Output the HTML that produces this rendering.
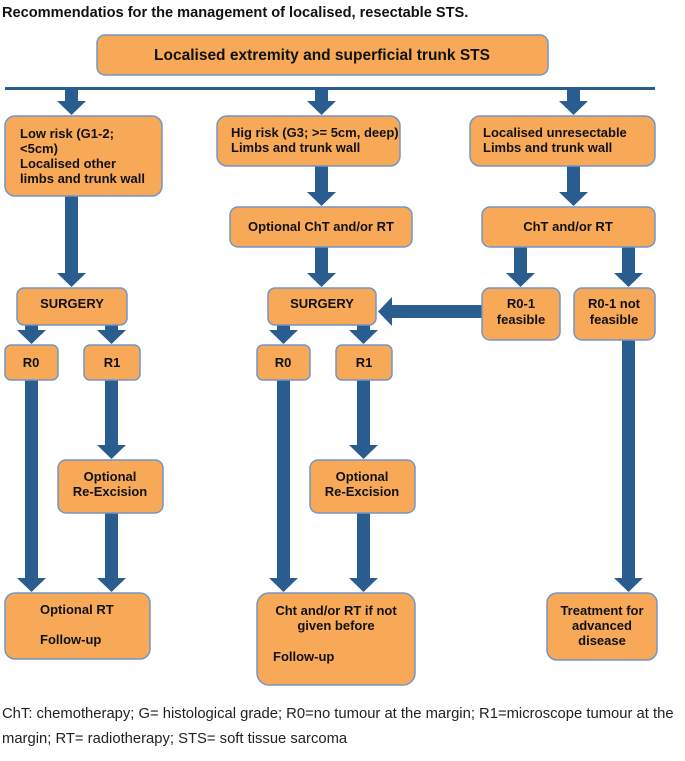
<!DOCTYPE html>
<html><head><meta charset="utf-8"><style>
body{margin:0;background:#fff;}
svg{display:block;font-family:"Liberation Sans",Arial,sans-serif;}
.b{fill:#f7a957;stroke:#7096c8;stroke-width:1.5;}
.t{font-weight:bold;font-size:13px;fill:#111;}
.a{fill:#2a5d8f;}
</style></head><body>
<svg width="685" height="761" viewBox="0 0 685 761">
<text x="2" y="17" style="font-weight:bold;font-size:14.6px" fill="#111">Recommendatios for the management  of localised, resectable STS.</text>
<rect class="b" x="97" y="35" width="451" height="40" rx="8"/>
<text class="t" x="322" y="60" text-anchor="middle" style="font-size:15.5px">Localised extremity and superficial trunk STS</text>
<rect class="a" x="5" y="87" width="650" height="3"/>
<g class="a">
<rect x="65" y="88" width="13" height="14"/><polygon points="57,101 86,101 71.5,115"/>
<rect x="315" y="88" width="13" height="14"/><polygon points="307,101 336,101 321.5,115"/>
<rect x="567" y="88" width="13" height="14"/><polygon points="559,101 588,101 573.5,115"/>
<rect x="315" y="166" width="13" height="27"/><polygon points="307,192 336,192 321.5,206"/>
<rect x="567" y="166" width="13" height="27"/><polygon points="559,192 588,192 573.5,206"/>
<rect x="65" y="196" width="13" height="78"/><polygon points="57,273 86,273 71.5,287"/>
<rect x="315" y="247" width="13" height="27"/><polygon points="307,273 336,273 321.5,287"/>
<rect x="514" y="247" width="13" height="27"/><polygon points="506,273 535,273 520.5,287"/>
<rect x="622" y="247" width="13" height="27"/><polygon points="614,273 643,273 628.5,287"/>
<rect x="392" y="305" width="90" height="13"/><polygon points="392,297 392,326 378,311.5"/>
<rect x="25" y="325" width="13" height="6"/><polygon points="17,330 46,330 31.5,344"/>
<rect x="105" y="325" width="13" height="6"/><polygon points="97,330 126,330 111.5,344"/>
<rect x="277" y="325" width="13" height="6"/><polygon points="269,330 298,330 283.5,344"/>
<rect x="357" y="325" width="13" height="6"/><polygon points="349,330 378,330 363.5,344"/>
<rect x="25" y="380" width="13" height="199"/><polygon points="17,578 46,578 31.5,592"/>
<rect x="277" y="380" width="13" height="199"/><polygon points="269,578 298,578 283.5,592"/>
<rect x="105" y="380" width="13" height="66"/><polygon points="97,445 126,445 111.5,459"/>
<rect x="357" y="380" width="13" height="66"/><polygon points="349,445 378,445 363.5,459"/>
<rect x="105" y="513" width="13" height="66"/><polygon points="97,578 126,578 111.5,592"/>
<rect x="357" y="513" width="13" height="66"/><polygon points="349,578 378,578 363.5,592"/>
<rect x="622" y="340" width="13" height="239"/><polygon points="614,578 643,578 628.5,592"/>
</g>
<rect class="b" x="5" y="116" width="157" height="80" rx="10"/>
<text class="t" x="20" y="138">Low risk (G1-2;</text>
<text class="t" x="20" y="153">&lt;5cm)</text>
<text class="t" x="20" y="168">Localised other</text>
<text class="t" x="20" y="183">limbs and trunk wall</text>
<rect class="b" x="217" y="116" width="183" height="50" rx="10"/>
<text class="t" x="231" y="137">Hig risk (G3; &gt;= 5cm, deep)</text>
<text class="t" x="231" y="152">Limbs and trunk wall</text>
<rect class="b" x="470" y="116" width="185" height="50" rx="10"/>
<text class="t" x="483" y="137">Localised unresectable</text>
<text class="t" x="483" y="152">Limbs and trunk wall</text>
<rect class="b" x="230" y="207" width="182" height="40" rx="8"/>
<text class="t" x="321" y="231" text-anchor="middle">Optional ChT and/or RT</text>
<rect class="b" x="482" y="207" width="173" height="40" rx="8"/>
<text class="t" x="568" y="231" text-anchor="middle">ChT and/or RT</text>
<rect class="b" x="17" y="288" width="110" height="37" rx="7"/>
<text class="t" x="72" y="308" text-anchor="middle">SURGERY</text>
<rect class="b" x="268" y="288" width="108" height="37" rx="7"/>
<text class="t" x="322" y="308" text-anchor="middle">SURGERY</text>
<rect class="b" x="482" y="288" width="78" height="52" rx="8"/>
<text class="t" x="521" y="308" text-anchor="middle">R0-1</text>
<text class="t" x="521" y="324" text-anchor="middle">feasible</text>
<rect class="b" x="574" y="288" width="81" height="52" rx="8"/>
<text class="t" x="614" y="308" text-anchor="middle">R0-1 not</text>
<text class="t" x="614" y="324" text-anchor="middle">feasible</text>
<rect class="b" x="5" y="345" width="53" height="35" rx="6"/>
<text class="t" x="31" y="367" text-anchor="middle">R0</text>
<rect class="b" x="84" y="345" width="56" height="35" rx="6"/>
<text class="t" x="112" y="367" text-anchor="middle">R1</text>
<rect class="b" x="257" y="345" width="53" height="35" rx="6"/>
<text class="t" x="283" y="367" text-anchor="middle">R0</text>
<rect class="b" x="336" y="345" width="56" height="35" rx="6"/>
<text class="t" x="364" y="367" text-anchor="middle">R1</text>
<rect class="b" x="58" y="460" width="105" height="53" rx="8"/>
<text class="t" x="110" y="481" text-anchor="middle">Optional</text>
<text class="t" x="110" y="496" text-anchor="middle">Re-Excision</text>
<rect class="b" x="310" y="460" width="105" height="53" rx="8"/>
<text class="t" x="362" y="481" text-anchor="middle">Optional</text>
<text class="t" x="362" y="496" text-anchor="middle">Re-Excision</text>
<rect class="b" x="5" y="593" width="145" height="66" rx="10"/>
<text class="t" x="40" y="614">Optional RT</text>
<text class="t" x="40" y="644">Follow-up</text>
<rect class="b" x="257" y="593" width="158" height="92" rx="12"/>
<text class="t" x="336" y="615" text-anchor="middle">Cht and/or RT if not</text>
<text class="t" x="336" y="630" text-anchor="middle">given before</text>
<text class="t" x="273" y="661">Follow-up</text>
<rect class="b" x="547" y="593" width="110" height="67" rx="10"/>
<text class="t" x="602" y="615" text-anchor="middle">Treatment for</text>
<text class="t" x="602" y="630" text-anchor="middle">advanced</text>
<text class="t" x="602" y="645" text-anchor="middle">disease</text>
<text x="2" y="718" style="font-size:14.8px" fill="#222">ChT: chemotherapy; G= histological grade; R0=no tumour at the margin; R1=microscope tumour at the</text>
<text x="2" y="743" style="font-size:14.8px" fill="#222">margin; RT= radiotherapy; STS= soft tissue sarcoma</text>
</svg>
</body></html>
